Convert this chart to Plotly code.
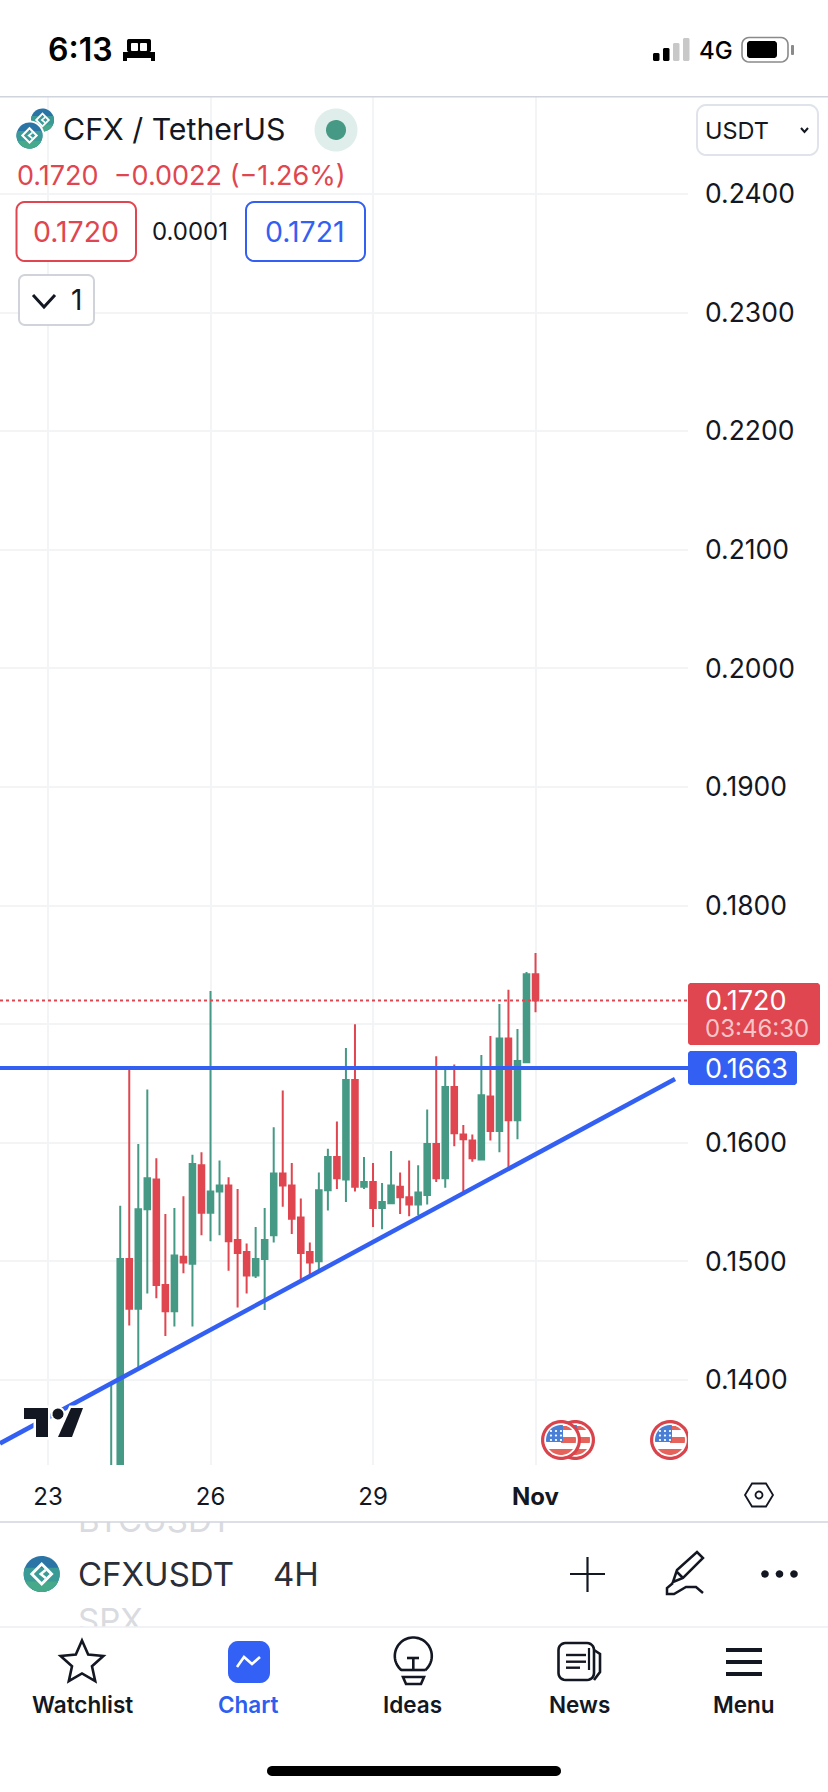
import numpy as np
import pandas as pd
import plotly.graph_objects as go

W, H = 828, 1792

# 4H candles, last one opens on Nov 1
open_ = [.1280, .1300, .1502, .1460, .1544, .1569, .1480, .1458, .1504, .1498, .1581, .1541,
         .1559, .1564, .1518, .1508, .1488, .1502, .1522, .1574, .1564, .1537, .1508, .1500,
         .1560, .1588, .1569, .1653, .1563, .1567, .1545, .1549, .1563, .1554, .1548, .1556,
         .1599, .1570, .1647, .1607, .1602, .1586, .1639, .1610, .1688, .1619, .1668, .1742]
high = [.1396, .1547, .1662, .1599, .1645, .1587, .1540, .1545, .1555, .1590, .1592, .1728,
        .1585, .1571, .1561, .1515, .1529, .1545, .1613, .1644, .1583, .1553, .1516, .1575,
        .1595, .1618, .1680, .1700, .1588, .1583, .1566, .1593, .1575, .1585, .1581, .1628,
        .1673, .1664, .1666, .1615, .1607, .1674, .1690, .1717, .1729, .1696, .1744, .1760]
low = [.1260, .1285, .1446, .1410, .1473, .1469, .1437, .1445, .1490, .1445, .1522, .1517,
       .1522, .1492, .1461, .1473, .1486, .1459, .1516, .1546, .1523, .1484, .1488, .1491,
       .1543, .1561, .1550, .1559, .1561, .1529, .1527, .1549, .1540, .1538, .1539, .1548,
       .1567, .1562, .1597, .1559, .1584, .1586, .1602, .1592, .1577, .1603, .1668, .1710]
close = [.1310, .1502, .1460, .1544, .1570, .1480, .1458, .1505, .1499, .1582, .1541, .1559,
         .1564, .1517, .1507, .1488, .1502, .1518, .1574, .1564, .1536, .1507, .1499, .1560,
         .1588, .1570, .1653, .1563, .1567, .1545, .1550, .1564, .1554, .1548, .1558, .1599,
         .1570, .1647, .1608, .1603, .1587, .1640, .1610, .1688, .1619, .1669, .1742, .1720]
dates = pd.date_range(end="2023-11-01", periods=len(open_), freq="4h")

price_ticks = [.14, .15, .16, .17, .18, .19, .20, .21, .22, .23, .24]
price_labels = ["0.1400", "0.1500", "0.1600", "0.1700", "0.1800", "0.1900",
                "0.2000", "0.2100", "0.2200", "0.2300", "0.2400"]
date_ticks = ["2023-10-23", "2023-10-26", "2023-10-29", "2023-11-01"]
date_labels = ["23", "26", "29", "<b>Nov</b>"]

last_price = 0.1720
level_price = 0.1663
trend_x = ["2023-10-22 02:44", "2023-11-03 13:48"]
trend_y = [0.13465, 0.16538]

GREEN = "#469a85"
RED = "#df4650"
BLUE = "#3360f2"
INK = "#131722"
FONT = "Inter"
PLOT_R, PLOT_T, PLOT_B = 688, 97, 1465


def px(x):
    return x / W


def py(y):
    return 1 - y / H


def path(pts, closed=True):
    d = " ".join(("M" if i == 0 else "L") + f"{px(x):.5f},{py(y):.5f}" for i, (x, y) in enumerate(pts))
    return d + (" Z" if closed else "")


shapes = []
notes = []


def fill(pts, color):
    shapes.append(dict(type="path", xref="paper", yref="paper", path=path(pts), fillcolor=color,
                       line=dict(width=0), layer="above"))


def stroke(pts, color=INK, w=2.5, closed=False):
    shapes.append(dict(type="path", xref="paper", yref="paper", path=path(pts, closed),
                       fillcolor="rgba(0,0,0,0)", line=dict(color=color, width=w), layer="above"))


def arc(cx, cy, r, a0=0, a1=360, n=48, clip=None, ry=None):
    t = np.radians(np.linspace(a0, a1, n))
    xs = cx + r * np.cos(t)
    ys = cy + (ry or r) * np.sin(t)
    if clip:
        xs = np.minimum(xs, clip)
    return list(zip(xs, ys))


def rrect(x0, y0, x1, y1, r):
    pts = arc(x1 - r, y0 + r, r, -90, 0, 7) + arc(x1 - r, y1 - r, r, 0, 90, 7)
    return pts + arc(x0 + r, y1 - r, r, 90, 180, 7) + arc(x0 + r, y0 + r, r, 180, 270, 7)


def txt(x, y, s, size=24, color=INK, anchor="left", weight=None):
    font = dict(family=FONT, size=size, color=color)
    if weight:
        font["weight"] = weight
    # annotations pad their text by about 2px
    if anchor == "left":
        x -= 2
    notes.append(dict(x=px(x), y=py(y), xref="paper", yref="paper", text=s, showarrow=False,
                      xanchor=anchor, yanchor="middle", font=font))


def coin(cx, cy, r):
    fill(arc(cx, cy, r), "#2b74a6")
    fill(arc(cx, cy, r, -20, 200), "#3a9a96")
    fill(arc(cx, cy, r, 25, 155), "#45a98a")
    m = r * 0.55
    stroke([(cx, cy - m), (cx + m, cy), (cx, cy + m), (cx - m, cy)], "white", r * 0.16, True)
    stroke([(cx + m * .4, cy + m * .4), (cx - m * .1, cy), (cx + m * .4, cy - m * .4)], "white", r * 0.14)


def flag(cx, cy=1440, clip=None):
    r = 20
    fill(arc(cx, cy, r, clip=clip), "#d9434c")
    fill(arc(cx, cy, r - 3.2, clip=clip), "white")
    fill([(x, min(max(y, cy - 3), cy + 3)) for x, y in arc(cx, cy, r - 5, -90, 90, clip=clip)], "#e4645c")
    fill([(x, max(y, cy + 9)) for x, y in arc(cx, cy, r - 5, clip=clip)], "#e4645c")
    fill([(min(max(x, cx), cx + 11), max(y, cy - 14)) for x, y in arc(cx, cy, r - 5, -90, -10, clip=clip)
          if y < cy - 10] + [(cx, cy - 10)], "#e4645c")
    fill([(min(x, cx + 2), min(y, cy + 2)) for x, y in arc(cx, cy, r - 5, clip=clip)], "#4a7fd6")
    for i in range(3):
        for j in range(3):
            dot_x, dot_y = cx - 10 + 5 * j, cy - 9 + 4.5 * i
            fill(arc(dot_x, dot_y, 1.1, n=10), "white")


# status bar
txt(48, 50, "6:13", 32, "black", weight=600)
fill(rrect(127, 39, 151, 52, 2), "black")
fill([(123, 52), (155, 52), (155, 61), (151, 61), (151, 58), (127, 58), (127, 61), (123, 61)], "black")
fill(rrect(131, 43, 138, 51, 1), "white")
fill(rrect(140, 43, 147, 51, 1), "white")
for bar_x, bar_top, bar_col in [(653, 53, "black"), (663, 48, "black"), (673, 43, "#c8c8c8"), (683, 38, "#c8c8c8")]:
    fill(rrect(bar_x, bar_top, bar_x + 6.5, 61, 1.5), bar_col)
txt(699, 51, "4G", 24, "black", weight=500)
stroke(rrect(742, 37.5, 788, 62, 7), "#8a8a8a", 1.6, True)
fill(rrect(747, 41, 777, 58, 3), "black")
fill(rrect(791, 45, 794, 55, 1), "#8a8a8a")
shapes.append(dict(type="line", xref="paper", yref="paper", x0=0, x1=1, y0=py(96.7), y1=py(96.7),
                   line=dict(color="#d0d4dc", width=1.5), layer="above"))

# symbol header
coin(42.5, 120, 11.5)
fill(arc(29.5, 135.5, 15), "white")
coin(29.5, 135.5, 13)
txt(63, 129, "CFX / TetherUS", 30.3)
fill(arc(336, 130, 21.5), "#dfeeea")
fill(arc(336, 130, 10), GREEN)
txt(17, 175, "0.1720 &nbsp;\u22120.0022 (\u22121.26%)", 27, RED)
fill(rrect(697, 105, 818, 155, 9), "white")
stroke(rrect(697, 105, 818, 155, 9), "#e0e3eb", 2, True)
txt(705, 130, "USDT", 23.5)
stroke([(801, 128), (804.5, 132), (808, 128)], INK, 2)

fill(rrect(16.5, 202, 136, 261, 8), "white")
stroke(rrect(16.5, 202, 136, 261, 8), RED, 2, True)
txt(76, 231, "0.1720", 28.5, RED, "center")
txt(190, 232, "0.0001", 24, INK, "center")
fill(rrect(246, 202, 365, 261, 8), "white")
stroke(rrect(246, 202, 365, 261, 8), BLUE, 2, True)
txt(305, 231, "0.1721", 28.5, BLUE, "center")
fill(rrect(19, 275, 94, 325, 6), "white")
stroke(rrect(19, 275, 94, 325, 6), "#d0d3da", 2, True)
stroke([(33, 295), (44, 307), (55, 295)], INK, 3)
txt(76.5, 300, "1", 28, INK, "center")

# tradingview logo with its white halo
logo_t = [(24, 1408), (48, 1408), (48, 1437), (36, 1437), (36, 1419), (24, 1419)]
logo_slash = [(71, 1408), (83, 1408), (72, 1437), (58, 1437)]
for part in (logo_t, logo_slash):
    stroke(part, "white", 5, True)
stroke(arc(58, 1414, 5.5, n=16), "white", 4, True)
fill(logo_t, INK)
fill(logo_slash, INK)
fill(arc(58, 1414, 5.5, n=16), INK)

flag(575)
flag(561)
flag(670, clip=PLOT_R)

# last price and level tags on the scale
fill(rrect(688, 983, 820, 1045, 3), RED)
txt(705, 1000, "0.1720", 27, "white")
txt(705, 1028, "03:46:30", 24, "#f7c4c7")
fill(rrect(688, 1051, 797, 1085, 3), BLUE)
txt(705, 1068, "0.1663", 27, "white")
stroke([(752, 1483.5), (766, 1483.5), (773, 1495), (766, 1506.5), (752, 1506.5), (745, 1495)], INK, 1.8, True)
stroke(arc(759, 1495, 3.5, n=16), INK, 1.8, True)

# bottom toolbar
shapes.append(dict(type="line", xref="paper", yref="paper", x0=0, x1=1, y0=py(1522), y1=py(1522),
                   line=dict(color="#d1d4dc", width=1.5), layer="above"))
coin(41.7, 1574, 18)
txt(78, 1574, "CFXUSDT", 33, "#2a2e39")
txt(273, 1574, "4H", 33, "#2a2e39")
stroke([(570, 1574), (605, 1574)], INK, 2.2)
stroke([(587.5, 1557), (587.5, 1592)], INK, 2.2)
stroke([(673, 1582), (677, 1570), (697, 1552), (703, 1558), (683, 1578)], INK, 2.5, True)
stroke([(677, 1572), (683, 1578)], INK, 2.5)
stroke([(673, 1583), (667, 1588), (667, 1594), (674, 1594), (686, 1587), (696, 1587), (703, 1593)], INK, 2.5)
for dot_x in (765, 779.5, 794):
    fill(arc(dot_x, 1574, 3.8, n=16), INK)
shapes.append(dict(type="line", xref="paper", yref="paper", x0=0, x1=1, y0=py(1627), y1=py(1627),
                   line=dict(color="#eceef2", width=1.5), layer="above"))

# nav bar
ang = np.radians(np.arange(0, 360, 36) - 90)
rad = np.where(np.arange(10) % 2 == 0, 22.5, 10.5)
stroke(list(zip(82 + rad * np.cos(ang), 1663 + rad * np.sin(ang))), INK, 2.6, True)
fill(rrect(228, 1641, 270, 1683, 10), "#3461f5")
stroke([(237, 1667), (244, 1657), (252, 1664), (260, 1657)], "white", 2.6)
stroke(arc(413.3, 1656, 18.5, 130, 410), INK, 2.6)
stroke([(401, 1670), (425.5, 1670)], INK, 2.6)
stroke([(407, 1658), (419, 1658)], INK, 2.6)
stroke([(413.3, 1658), (413.3, 1671)], INK, 2.6)
stroke([(403, 1677), (424, 1677), (421, 1684), (406, 1684)], INK, 2.6, True)
stroke(rrect(558.5, 1643, 594, 1680, 7), INK, 2.6, True)
stroke([(594, 1650), (600, 1654), (600, 1672), (594, 1680)], INK, 2.6)
stroke([(589, 1648), (589, 1670)], INK, 2.2)
stroke([(566, 1655), (586, 1655)], INK, 2.4)
stroke([(566, 1661.7), (586, 1661.7)], INK, 2.4)
stroke([(566, 1667.7), (580, 1667.7)], INK, 2.4)
for bar_y in (1650, 1662, 1674):
    fill([(726, bar_y - 2), (762, bar_y - 2), (762, bar_y + 2), (726, bar_y + 2)], INK)
fill(rrect(267, 1766, 561, 1776, 5), "black")
for label, label_x, col in [("Watchlist", 82, INK), ("Chart", 248, "#2d5ef0"), ("Ideas", 412, INK),
                            ("News", 579, INK), ("Menu", 744, INK)]:
    txt(label_x, 1704, label, 22.5, col, "center", 600)

# price lines
shapes.insert(0, dict(type="line", xref="paper", yref="y", x0=0, x1=px(PLOT_R), y0=last_price, y1=last_price,
                      line=dict(color=RED, width=2, dash="dot"), layer="above"))
shapes.insert(1, dict(type="line", xref="paper", yref="y", x0=0, x1=px(PLOT_R), y0=level_price, y1=level_price,
                      line=dict(color=BLUE, width=4), layer="above"))

fig = go.Figure()
fig.add_trace(go.Candlestick(
    x=dates, open=open_, high=high, low=low, close=close,
    increasing=dict(line=dict(color=GREEN, width=2), fillcolor=GREEN),
    decreasing=dict(line=dict(color=RED, width=2), fillcolor=RED),
    whiskerwidth=0, hoverinfo="skip",
))
fig.add_trace(go.Scatter(x=trend_x, y=trend_y, mode="lines", line=dict(color=BLUE, width=4.5), hoverinfo="skip"))
# watchlist rows showing behind the toolbar, clipped by its own axes
fig.add_trace(go.Scatter(x=[78, 78], y=[1524, 1624], text=["BTCUSDT", "SPX"], mode="text",
                         textposition="middle right", textfont=dict(family=FONT, size=33, color="#d9dbe0"),
                         cliponaxis=True, xaxis="x2", yaxis="y2", hoverinfo="skip"))

axis_off = dict(visible=False, fixedrange=True)
fig.update_layout(
    width=W, height=H,
    margin=dict(l=0, r=0, t=0, b=0),
    paper_bgcolor="white", plot_bgcolor="rgba(0,0,0,0)",
    showlegend=False, boxgap=0.12,
    font=dict(family=FONT, color=INK, size=24),
    xaxis=dict(
        domain=[0, px(PLOT_R)], range=["2023-10-22 02:44", "2023-11-03 19:33"],
        rangeslider=dict(visible=False), tickmode="array", tickvals=date_ticks, ticktext=date_labels,
        showgrid=True, gridcolor="#f3f4f6", gridwidth=1.5, zeroline=False, showline=False,
        ticks="", ticklabelstandoff=15, tickfont=dict(family=FONT, size=24, color=INK),
    ),
    yaxis=dict(
        domain=[py(PLOT_B), py(PLOT_T)], range=[0.13283, 0.24818], side="right",
        tickmode="array", tickvals=price_ticks, ticktext=price_labels,
        showgrid=True, gridcolor="#f3f4f6", gridwidth=1.5, zeroline=False, showline=False,
        ticks="", ticklabelstandoff=16, tickfont=dict(family=FONT, size=26.5, color=INK),
    ),
    xaxis2=dict(domain=[0, 1], range=[0, W], anchor="y2", **axis_off),
    yaxis2=dict(domain=[py(1627), py(1522)], range=[1627, 1522], anchor="x2", **axis_off),
    shapes=shapes, annotations=notes,
)

fig.write_html("out.html", config={"displayModeBar": False},
               post_script="document.body.style.margin='0';document.documentElement.style.overflow='hidden';")
